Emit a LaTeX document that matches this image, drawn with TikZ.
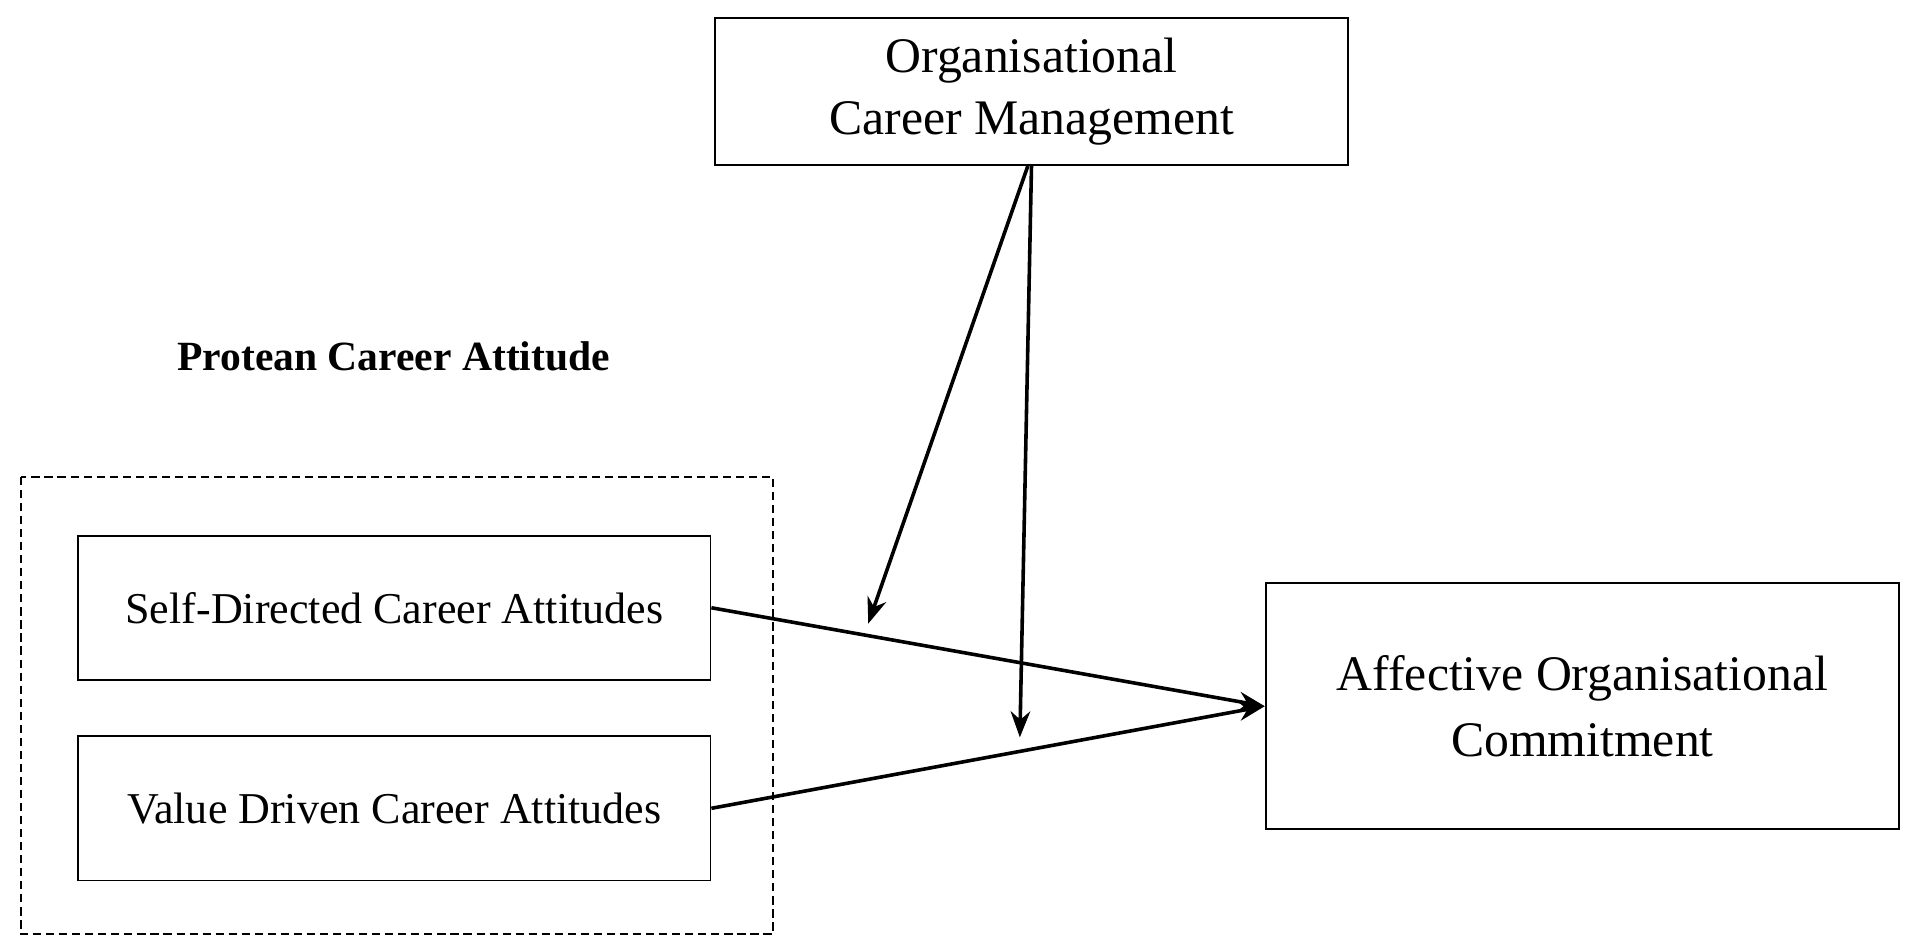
\documentclass[tikz,border=0pt]{standalone}
\usepackage{fontspec}
\setmainfont{Liberation Serif}
\usetikzlibrary{arrows.meta}
\begin{document}
\begin{tikzpicture}[x=0.75pt,y=-0.75pt,
  box/.style={draw,line width=1.1pt,inner sep=0pt,align=center},
  arr/.style={line width=2.2pt,-{Stealth[length=16pt,width=12pt]}}]
\useasboundingbox (0,0) rectangle (1566,778.5);
\node[box,minimum width=517*0.75pt,minimum height=120*0.75pt,font=\fontsize{30.5}{38}\selectfont] (ocm) at (843.5,75) {Organisational\\Career Management};
\node[font=\fontsize{25.5}{30}\selectfont\bfseries] (pca) at (322,291) {Protean Career Attitude};
\draw[dash pattern=on 5pt off 3pt,line width=1pt] (17,390) rectangle (632,764);
\node[box,minimum width=517*0.75pt,minimum height=118*0.75pt,font=\fontsize{27}{32}\selectfont] (sd) at (322.5,497) {Self-Directed Career Attitudes};
\node[box,minimum width=517*0.75pt,minimum height=118*0.75pt,font=\fontsize{27}{32}\selectfont] (vd) at (322.5,661) {Value Driven Career Attitudes};
\node[box,minimum width=518*0.75pt,minimum height=201*0.75pt,font=\fontsize{30.5}{40}\selectfont] (aoc) at (1294,577.5) {Affective Organisational\\Commitment};
\coordinate (t1) at (710,510);
\coordinate (t2) at (834,603);
\draw[arr] (sd.east) -- (aoc.west);
\draw[arr] (vd.east) -- (aoc.west);
\draw[arr] ([xshift=-3*0.75pt]ocm.south) -- (t1);
\draw[arr] (ocm.south) -- (t2);
\end{tikzpicture}
\end{document}
